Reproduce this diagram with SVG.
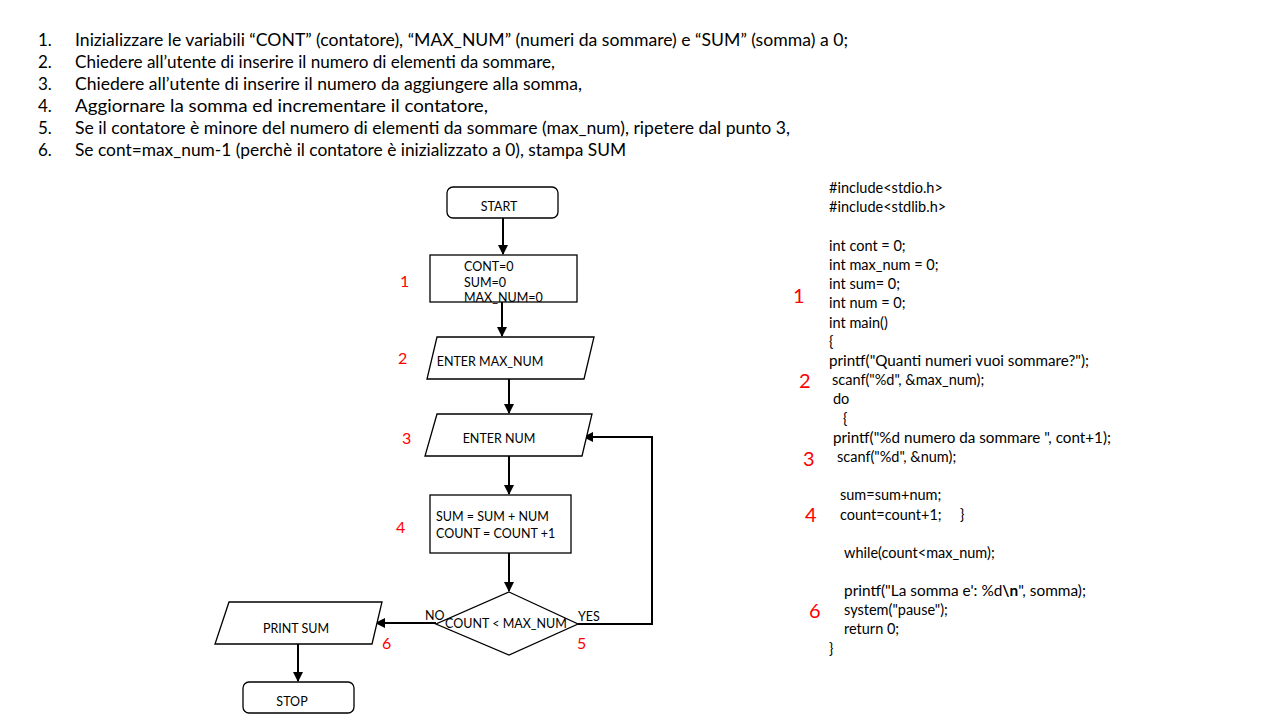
<svg xmlns="http://www.w3.org/2000/svg" width="1280" height="720" viewBox="0 0 1280 720">
<style>
text{font-family:Lato,"Open Sans","Liberation Sans",sans-serif;fill:#000}
.list{font-size:17px}
.fc{font-size:12.5px}
.code{font-size:14.5px}
.rn{fill:#ff0000;font-size:16px}
.rc{fill:#ff0000;font-size:20px}
.shape{fill:#fff;stroke:#000;stroke-width:1.3}
.conn{fill:none;stroke:#000;stroke-width:2}
</style>
<defs>
<marker id="ah" viewBox="0 0 10 10" refX="9" refY="5" markerWidth="5" markerHeight="5" orient="auto" markerUnits="strokeWidth">
<path d="M0,0 L10,5 L0,10 z" fill="#000"/>
</marker>
</defs>
<rect width="1280" height="720" fill="#fff"/>
<g id="steps" class="list">
<text x="38" y="46">1.</text><text x="75" y="46" textLength="773" lengthAdjust="spacingAndGlyphs">Inizializzare le variabili “CONT” (contatore), “MAX_NUM” (numeri da sommare) e “SUM” (somma) a 0;</text>
<text x="38" y="68">2.</text><text x="75" y="68" textLength="480" lengthAdjust="spacingAndGlyphs">Chiedere all’utente di inserire il numero di elementi da sommare,</text>
<text x="38" y="90">3.</text><text x="75" y="90" textLength="507" lengthAdjust="spacingAndGlyphs">Chiedere all’utente di inserire il numero da aggiungere alla somma,</text>
<text x="38" y="112">4.</text><text x="75" y="112" textLength="413" lengthAdjust="spacingAndGlyphs">Aggiornare la somma ed incrementare il contatore,</text>
<text x="38" y="134">5.</text><text x="75" y="134" textLength="715" lengthAdjust="spacingAndGlyphs">Se il contatore è minore del numero di elementi da sommare (max_num), ripetere dal punto 3,</text>
<text x="38" y="156">6.</text><text x="75" y="156" textLength="551" lengthAdjust="spacingAndGlyphs">Se cont=max_num-1 (perchè il contatore è inizializzato a 0), stampa SUM</text>
</g>
<g id="connectors">
<line class="conn" x1="503" y1="218" x2="503" y2="254" marker-end="url(#ah)"/>
<line class="conn" x1="502" y1="302" x2="502" y2="336" marker-end="url(#ah)"/>
<line class="conn" x1="509" y1="379" x2="509" y2="413" marker-end="url(#ah)"/>
<line class="conn" x1="509" y1="456" x2="509" y2="494" marker-end="url(#ah)"/>
<line class="conn" x1="509" y1="553" x2="509" y2="591" marker-end="url(#ah)"/>
<line class="conn" x1="436" y1="623" x2="376" y2="623" marker-end="url(#ah)"/>
<polyline class="conn" points="578,624 652,624 652,437 584,437" marker-end="url(#ah)"/>
<line class="conn" x1="298" y1="644" x2="298" y2="681" marker-end="url(#ah)"/>
<text x="425" y="620" class="fc">NO</text>
<text x="578" y="621" class="fc">YES</text>
</g>
<g id="start">
<rect class="shape" x="447" y="187" width="111" height="31" rx="6"/>
<text x="499" y="211" class="fc" text-anchor="middle">START</text>
</g>
<g id="init">
<rect class="shape" x="430" y="255" width="147" height="47"/>
<text x="464" y="271" class="fc">CONT=0</text>
<text x="464" y="287" class="fc">SUM=0</text>
<text x="464" y="302" class="fc">MAX_NUM=0</text>
<text x="400" y="287" class="rn">1</text>
</g>
<g id="enter-max">
<polygon class="shape" points="437,337 594,337 584,379 427,379"/>
<text x="490" y="366" class="fc" text-anchor="middle">ENTER MAX_NUM</text>
<text x="398" y="364" class="rn">2</text>
</g>
<g id="enter-num">
<polygon class="shape" points="437,414 592,414 582,456 425,456"/>
<text x="499" y="443" class="fc" text-anchor="middle">ENTER NUM</text>
<text x="402" y="444" class="rn">3</text>
</g>
<g id="update">
<rect class="shape" x="430" y="495" width="141" height="58"/>
<text x="436" y="521" class="fc">SUM = SUM + NUM</text>
<text x="436" y="538" class="fc">COUNT = COUNT +1</text>
<text x="396" y="533" class="rn">4</text>
</g>
<g id="decision">
<polygon class="shape" points="509,592 578,624 509,655 436,624"/>
<text x="506" y="628" class="fc" text-anchor="middle">COUNT &lt; MAX_NUM</text>
<text x="577" y="649" class="rn">5</text>
</g>
<g id="print">
<polygon class="shape" points="229,602 382,602 372,644 215,644"/>
<text x="296" y="633" class="fc" text-anchor="middle">PRINT SUM</text>
<text x="382" y="649" class="rn">6</text>
</g>
<g id="stop">
<rect class="shape" x="243" y="682" width="111" height="31" rx="6"/>
<text x="292" y="706" class="fc" text-anchor="middle">STOP</text>
</g>
<g id="code" class="code">
<text x="829" y="193">#include&lt;stdio.h&gt;</text>
<text x="829" y="212">#include&lt;stdlib.h&gt;</text>
<text x="829" y="251">int cont = 0;</text>
<text x="829" y="270">int max_num = 0;</text>
<text x="829" y="289">int sum= 0;</text>
<text x="829" y="308">int num = 0;</text>
<text x="829" y="328">int main()</text>
<text x="829" y="347">{</text>
<text x="829" y="366" textLength="260" lengthAdjust="spacingAndGlyphs">printf("Quanti numeri vuoi sommare?");</text>
<text x="832" y="385">scanf("%d", &amp;max_num);</text>
<text x="833" y="404">do</text>
<text x="843" y="424">{</text>
<text x="833" y="443" textLength="278" lengthAdjust="spacingAndGlyphs">printf("%d numero da sommare ", cont+1);</text>
<text x="837" y="462">scanf("%d", &amp;num);</text>
<text x="840" y="500">sum=sum+num;</text>
<text x="840" y="520">count=count+1;</text>
<text x="960" y="520">}</text>
<text x="844" y="558">while(count&lt;max_num);</text>
<text x="844" y="596" textLength="242" lengthAdjust="spacingAndGlyphs">printf("La somma e': %d<tspan font-weight="bold">\n</tspan>", somma);</text>
<text x="844" y="615">system("pause");</text>
<text x="844" y="634">return 0;</text>
<text x="829" y="654">}</text>
<text x="793" y="303" class="rc">1</text>
<text x="799" y="388" class="rc">2</text>
<text x="803" y="466" class="rc">3</text>
<text x="805" y="522" class="rc">4</text>
<text x="809" y="618" class="rc">6</text>
</g>
</svg>
